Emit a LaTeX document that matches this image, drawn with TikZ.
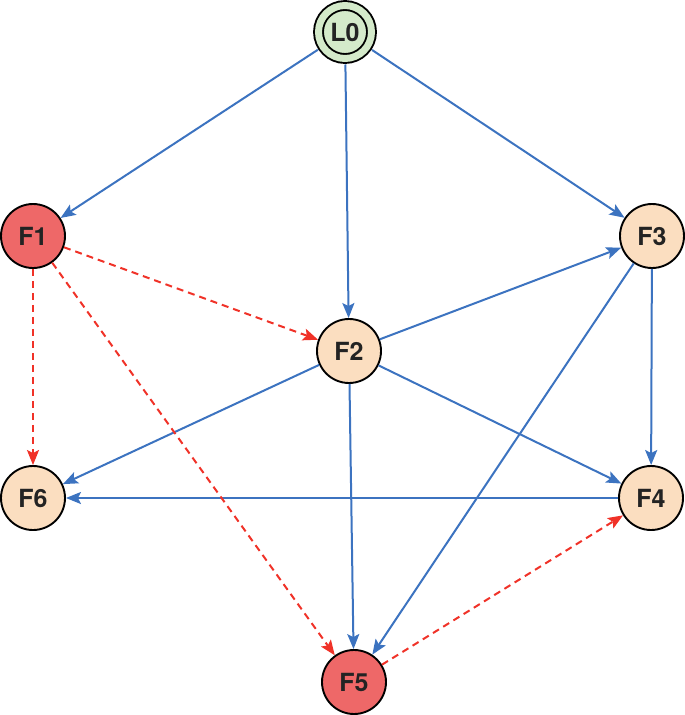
\documentclass[tikz,border=0pt]{standalone}
\usepackage{fontspec}
\setmainfont{TeX Gyre Heros}
\usetikzlibrary{arrows.meta}

\definecolor{redfill}{RGB}{238,104,104}
\definecolor{peachfill}{RGB}{251,222,192}
\definecolor{greenfill}{RGB}{212,234,202}
\definecolor{edgeblue}{RGB}{60,115,192}
\definecolor{edgered}{RGB}{240,50,40}
\definecolor{labelgray}{RGB}{35,35,35}

\tikzset{
    fnode/.style={circle, draw=black, line width=1.9pt, minimum size=64pt,
        inner sep=0pt, font=\bfseries\fontsize{25}{25}\selectfont, text=labelgray},
    failed/.style={fnode, fill=redfill},
    healthy/.style={fnode, fill=peachfill},
    leader/.style={fnode, fill=greenfill, minimum size=53pt, double=greenfill,
        double distance=7pt, outer sep=6pt},
    link/.style={draw=edgeblue, line width=2pt,
        -{Stealth[length=15pt, width=12pt, inset=3pt]}},
    faillink/.style={draw=edgered, line width=2pt, dash pattern=on 7pt off 5pt,
        -{Stealth[length=15pt, width=12pt, inset=3pt]}}
}

\begin{document}
\begin{tikzpicture}[x=1pt, y=-1pt]
    \useasboundingbox (0,0) rectangle (685,715);

    % Define nodes
    \node[leader]   (L0) at (345,32)  {L0};
    \node[failed]   (F1) at (33,236)  {F1};
    \node[healthy]  (F3) at (652,236) {F3};
    \node[healthy]  (F2) at (349,351) {F2};
    \node[healthy]  (F6) at (33,498)  {F6};
    \node[healthy]  (F4) at (651,498) {F4};
    \node[failed]   (F5) at (354,682) {F5};

    % Connect nodes
    \draw[link] (L0) -- (F1);
    \draw[link] (L0) -- (F2);
    \draw[link] (L0) -- (F3);
    \draw[link] (F2) -- (F3);
    \draw[link] (F2) -- (F6);
    \draw[link] (F2) -- (F5);
    \draw[link] (F2) -- (F4);
    \draw[link] (F3) -- (F4);
    \draw[link] (F3) -- (F5);
    \draw[link] (F4) -- (F6);

    % failure paths
    \draw[faillink] (F1) -- (F2);
    \draw[faillink] (F1) -- (F6);
    \draw[faillink] (F1) -- (F5);
    \draw[faillink] (F5) -- (F4);
\end{tikzpicture}
\end{document}
